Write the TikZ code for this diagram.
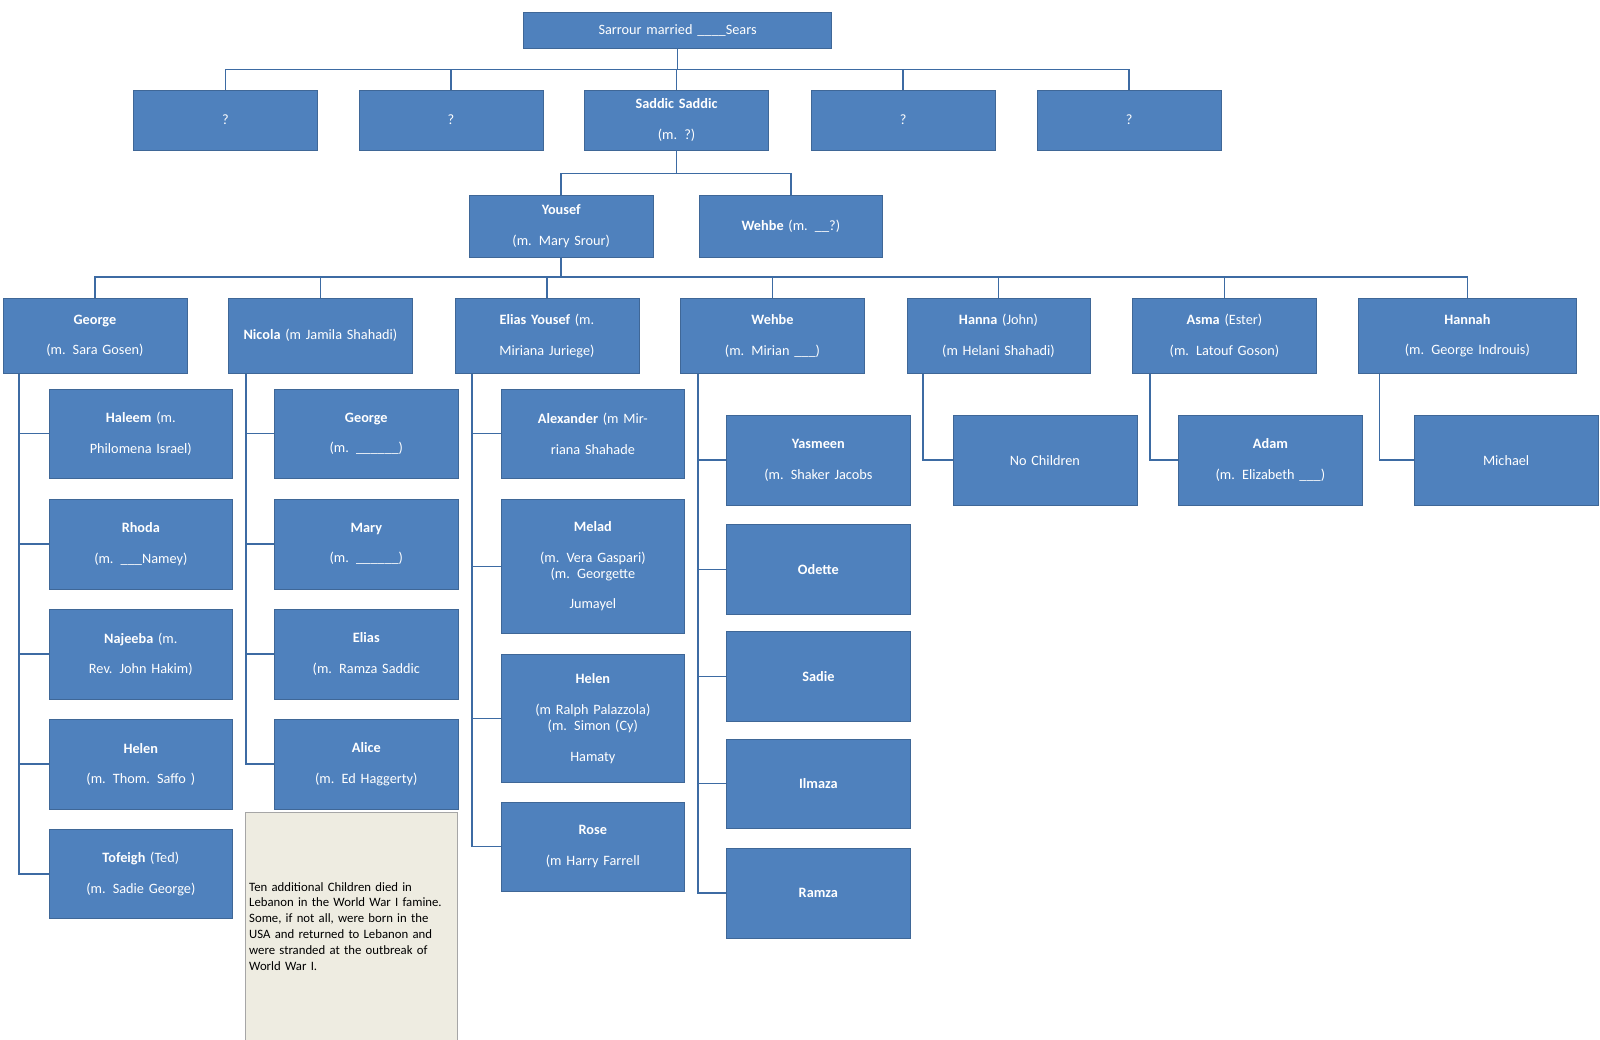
\documentclass[tikz,border=0pt]{standalone}
\usepackage{fontspec}
\setmainfont{Carlito}
\begin{document}
\begin{tikzpicture}[x=1pt,y=-1pt,
 bx/.style={fill=boxblue,draw=boxblue!80!black,line width=0.4pt,text=white,inner sep=2pt,align=center,text width=174pt,minimum width=180pt,font=\fontsize{14}{30}\selectfont},
 ln/.style={draw=lineblue,line width=1.6pt},
 note/.style={fill=notebg,draw=gray!70,text=black,align=left,text width=200pt,inner sep=4pt,font=\fontsize{12.5}{15.5}\selectfont,anchor=north west,minimum height=223pt}]
\definecolor{boxblue}{HTML}{4F81BD}
\definecolor{lineblue}{HTML}{3D6BA3}
\definecolor{notebg}{HTML}{EEECE1}
\useasboundingbox (0,0) rectangle (1568,1019);
\newcommand{\bxn}[6]{\node[bx,minimum width={#4-#2},text width={#4-#2-6},minimum height={#5-#3}] (#1) at ({(#2+#4)/2},{(#3+#5)/2}) {#6};}
% top
\bxn{top}{513}{12}{815}{47}{Sarrour married \_\_\_\_Sears}
\bxn{q1}{131}{88}{311}{147}{?}
\bxn{q2}{352}{88}{532}{147}{?}
\bxn{sad}{573}{88}{753}{147}{\textbf{Saddic Saddic}\\(m. ?)}
\bxn{q4}{795}{88}{975}{147}{?}
\bxn{q5}{1016}{88}{1197}{147}{?}
\foreach \n in {q1,q2,sad,q4,q5}{\draw[ln] (top.south) -- ++(0,21) -| (\n.north);}
\bxn{you}{460}{191}{640}{252}{\textbf{Yousef}\\(m. Mary Srour)}
\bxn{weh}{685}{191}{865}{252}{\textbf{Wehbe} (m. \_\_?)}
\foreach \n in {you,weh}{\draw[ln] (sad.south) -- ++(0,23) -| (\n.north);}
% row 4
\bxn{g}{3}{292}{183}{366}{\textbf{George}\\(m. Sara Gosen)}
\bxn{n}{224}{292}{404}{366}{\textbf{Nicola} (m Jamila Shahadi)}
\bxn{e}{446}{292}{626}{366}{\fontsize{14}{22}\selectfont\textbf{Elias Yousef} (m. Miriana Juriege)}
\bxn{w}{667}{292}{847}{366}{\textbf{Wehbe}\\(m. Mirian \_\_\_)}
\bxn{h}{889}{292}{1068}{366}{\textbf{Hanna} (John)\\(m Helani Shahadi)}
\bxn{a}{1110}{292}{1290}{366}{\textbf{Asma} (Ester)\\(m. Latouf Goson)}
\bxn{hh}{1331}{292}{1545}{366}{\textbf{Hannah}\\(m. George Indrouis)}
\foreach \n in {g,n,e,w,h,a,hh}{\draw[ln] (you.south) -- ++(0,19) -| (\n.north);}
% George children
\bxn{g1}{48}{381}{228}{469}{\fontsize{14}{22}\selectfont\textbf{Haleem} (m. Philomena Israel)}
\bxn{g2}{48}{489}{228}{577}{\textbf{Rhoda}\\(m. \_\_\_Namey)}
\bxn{g3}{48}{597}{228}{685}{\fontsize{14}{22}\selectfont\textbf{Najeeba} (m. Rev. John Hakim)}
\bxn{g4}{48}{705}{228}{793}{\textbf{Helen}\\(m. Thom. Saffo )}
\bxn{g5}{48}{813}{228}{900}{\textbf{Tofeigh} (Ted)\\(m. Sadie George)}
\draw[ln] ([xshift=16pt]g.south west) |- (g5.west);
\foreach \n in {g1,g2,g3,g4}{\draw[ln] (\n.west) -- ++(-29,0);}
% Nicola children
\bxn{n1}{269}{381}{449}{469}{\textbf{George}\\(m. \_\_\_\_\_\_)}
\bxn{n2}{269}{489}{449}{577}{\fontsize{14}{26}\selectfont\textbf{Mary}\\(m. \_\_\_\_\_\_)}
\bxn{n3}{269}{597}{449}{685}{\textbf{Elias}\\(m. Ramza Saddic}
\bxn{n4}{269}{705}{449}{793}{\textbf{Alice}\\(m. Ed Haggerty)}
\draw[ln] ([xshift=17pt]n.south west) |- (n4.west);
\foreach \n in {n1,n2,n3}{\draw[ln] (\n.west) -- ++(-28,0);}
\node[note] (note) at (240,796) {Ten additional Children died in Lebanon in the World War I famine. Some, if not all, were born in the USA and returned to Lebanon and were stranded at the outbreak of World War I.};
% Elias children
\bxn{e1}{491}{381}{671}{469}{\fontsize{14}{22}\selectfont\textbf{Alexander} (m Mirriana Shahade}
\bxn{e2}{491}{489}{671}{621}{\textbf{Melad}\\(m. Vera Gaspari)\\[-6pt]{\fontsize{14}{22}\selectfont(m. Georgette\\Jumayel}}
\bxn{e3}{491}{641}{671}{767}{\textbf{Helen}\\(m Ralph Palazzola)\\[-6pt]{\fontsize{14}{22}\selectfont(m. Simon (Cy)\\Hamaty}}
\bxn{e4}{491}{786}{671}{873}{\textbf{Rose}\\(m Harry Farrell}
\draw[ln] ([xshift=17pt]e.south west) |- (e4.west);
\foreach \n in {e1,e2,e3}{\draw[ln] (\n.west) -- ++(-28,0);}
% Wehbe children
\bxn{w1}{712}{407}{892}{495}{\textbf{Yasmeen}\\(m. Shaker Jacobs}
\bxn{w2}{712}{514}{892}{602}{\textbf{Odette}}
\bxn{w3}{712}{619}{892}{707}{\textbf{Sadie}}
\bxn{w4}{712}{724}{892}{812}{\textbf{Ilmaza}}
\bxn{w5}{712}{831}{892}{919}{\textbf{Ramza}}
\draw[ln] ([xshift=17pt]w.south west) |- (w5.west);
\foreach \n in {w1,w2,w3,w4}{\draw[ln] (\n.west) -- ++(-28,0);}
% others
\bxn{h1}{934}{407}{1114}{495}{No Children}
\draw[ln] ([xshift=16pt]h.south west) |- (h1.west);
\bxn{a1}{1155}{407}{1335}{495}{\textbf{Adam}\\(m. Elizabeth \_\_\_)}
\draw[ln] ([xshift=17pt]a.south west) |- (a1.west);
\bxn{hh1}{1386}{407}{1566}{495}{Michael}
\draw[ln] ([xshift=21pt]hh.south west) |- (hh1.west);
\end{tikzpicture}
\end{document}
